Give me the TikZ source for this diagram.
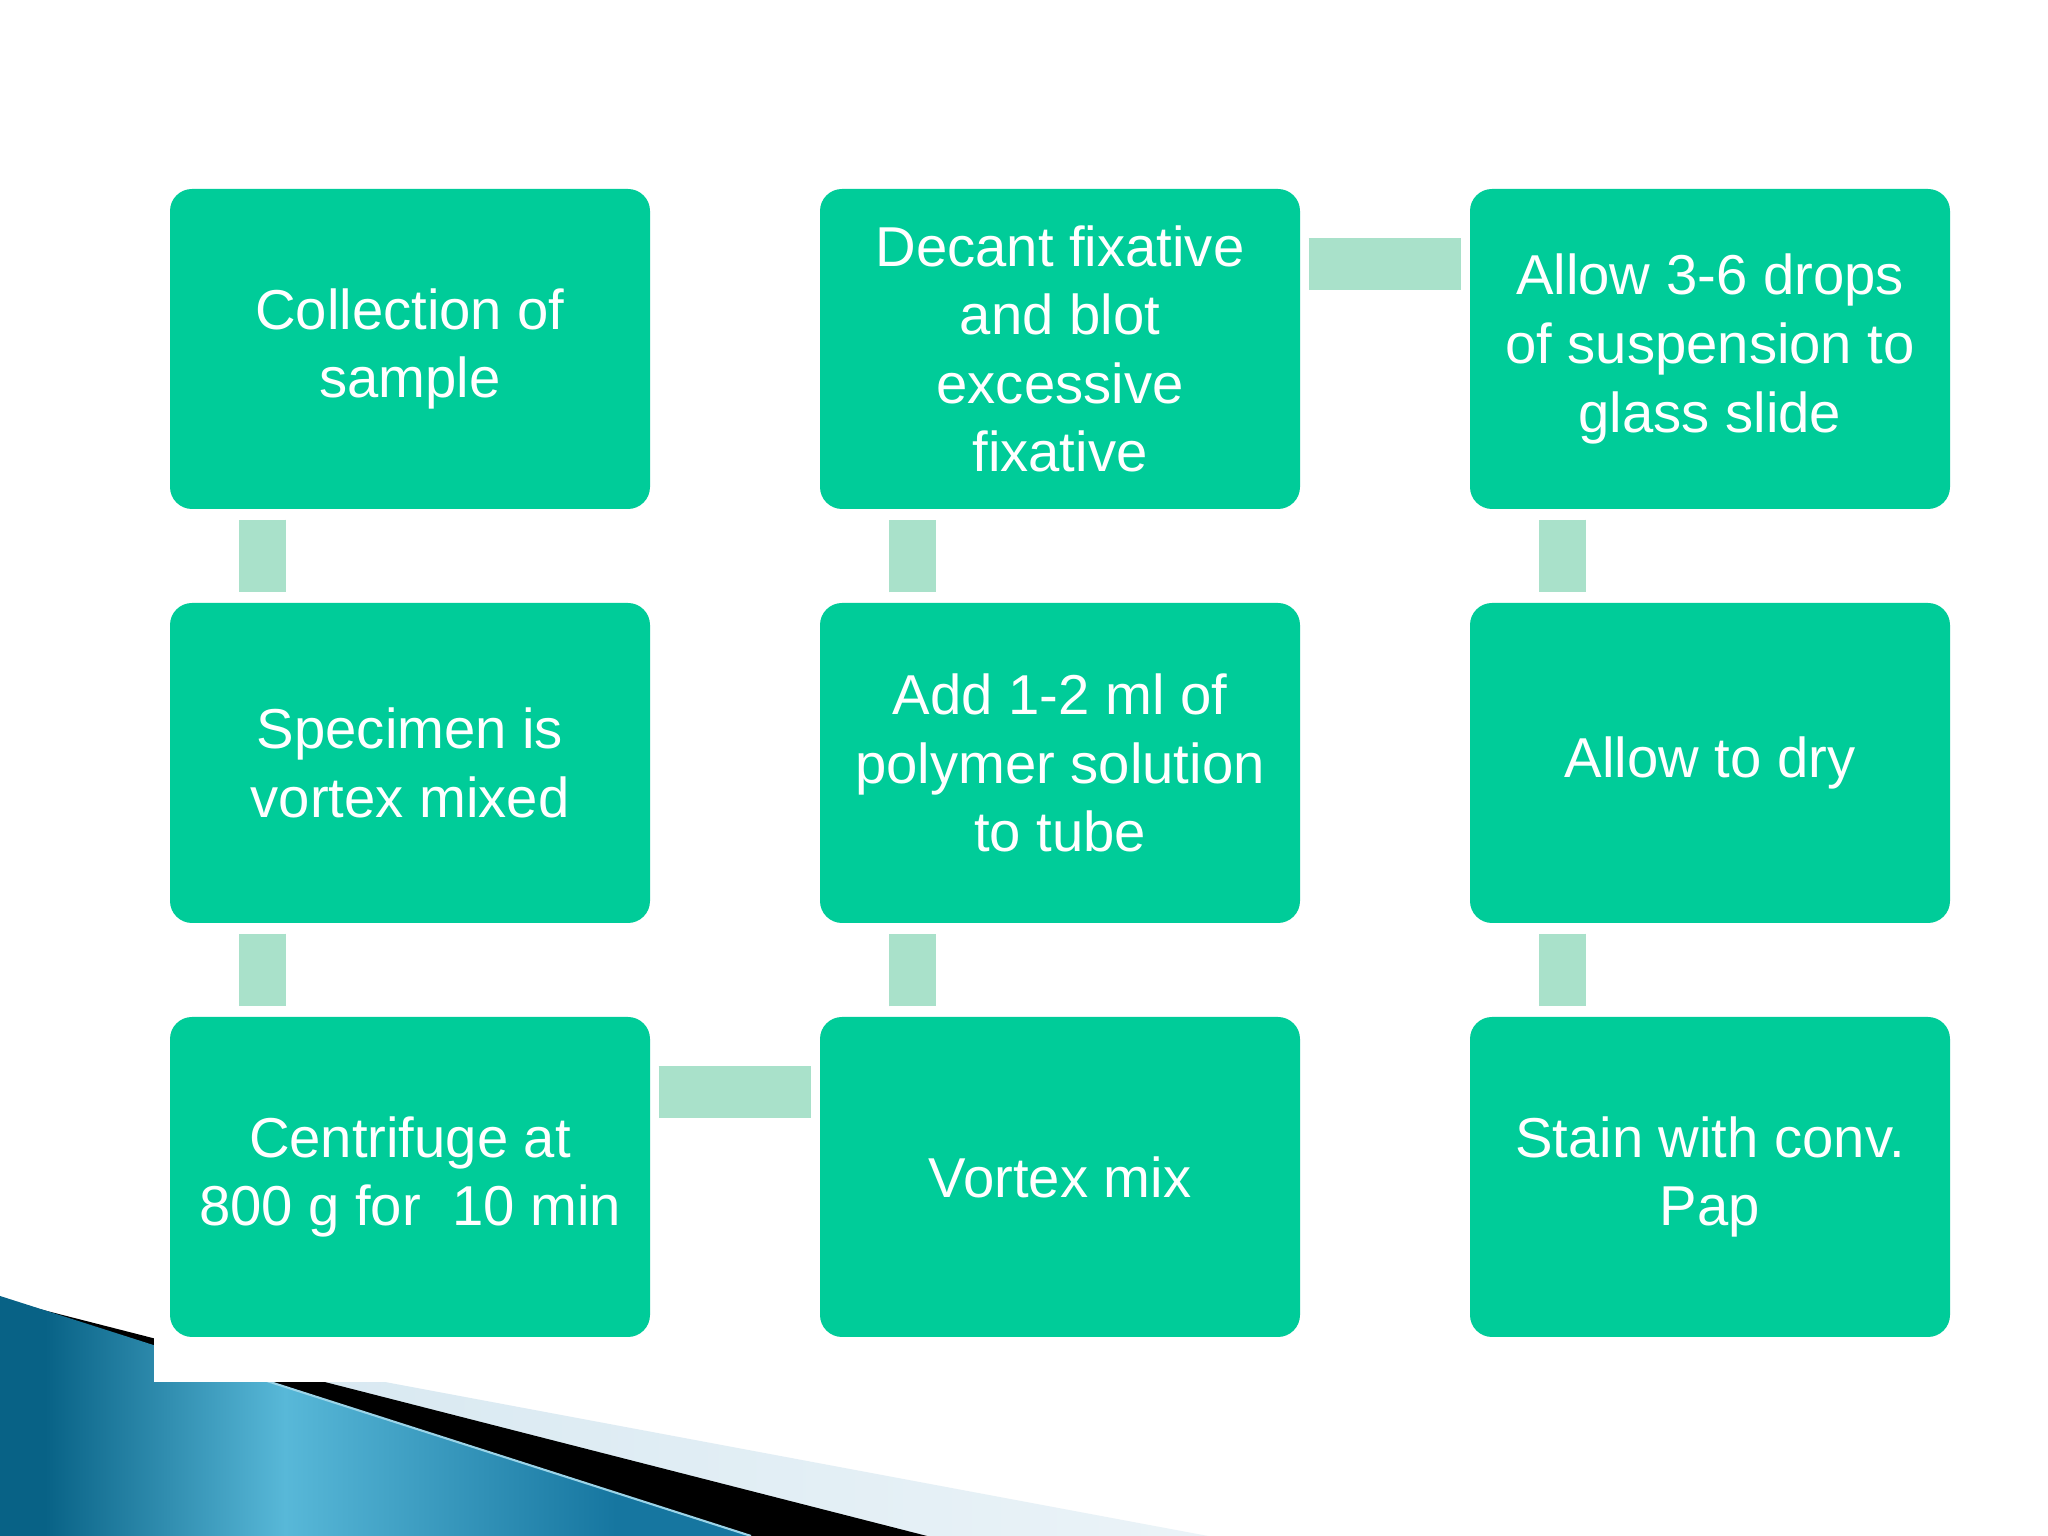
\documentclass[tikz,border=0pt]{standalone}
\usepackage{fontspec}
\setmainfont{Liberation Sans}
\usepackage{tikz}
\usetikzlibrary{calc}

\definecolor{stepgreen}{RGB}{0,204,153}
\definecolor{linkgreen}{RGB}{169,225,202}
\definecolor{swoopdark}{RGB}{8,98,134}
\definecolor{swooplight}{RGB}{88,184,216}
\definecolor{swoopedge}{RGB}{22,118,160}
\definecolor{swooppale}{RGB}{210,229,239}
\pgfdeclarehorizontalshading{swoop}{100bp}{color(0bp)=(swoopdark); color(28bp)=(swoopdark);
    color(44bp)=(swooplight); color(66bp)=(swoopedge); color(100bp)=(swoopedge)}

\begin{document}
\begin{tikzpicture}[
    stepbox/.style={rectangle,rounded corners=0.22cm,fill=stepgreen,text=white,
        minimum width=4.8cm,minimum height=3.2cm,inner sep=0pt,align=center,
        font=\fontsize{16}{19.5}\selectfont},
    vlink/.style={draw=linkgreen,line width=0.47cm},
    hlink/.style={draw=linkgreen,line width=0.52cm}]
    \useasboundingbox (0,0) rectangle (20.48,15.36);
    \fill [white] (0,0) rectangle (20.48,15.36);
    \shade [left color=swooppale,right color=swooppale!45!white] (0,0) -- (0,2.26) -- (12.08,0) -- cycle;
    \fill [black] (0,0) -- (0,2.37) -- (9.27,0) -- cycle;
    \shade [shading=swoop] (0,0) -- (0,2.40) -- (7.51,0) -- cycle;
    \draw [swooplight!60!white,line width=0.6pt] (2.2,1.7) -- (7.51,0);
    \fill [white] (1.54,1.54) rectangle (20.48,15.36);

    \node [stepbox] (collect) at (4.10,11.87) {Collection of\\sample};
    \node [stepbox] (vortexed) at (4.10,7.73) {Specimen is\\vortex mixed};
    \node [stepbox] (spin) at (4.10,3.59) {Centrifuge at\\800 g for\ \ 10 min};
    \node [stepbox] (vortex) at (10.60,3.59) {Vortex mix};
    \node [stepbox] (polymer) at (10.60,7.73) {Add 1-2 ml of\\polymer solution\\to tube};
    \node [stepbox] (decant) at (10.60,11.87) {Decant fixative\\and blot\\excessive\\fixative};
    \node [stepbox] (drops) at (17.10,11.87) {Allow 3-6 drops\\of suspension to\\glass slide};
    \node [stepbox] (dry) at (17.10,7.73) {Allow to dry};
    \node [stepbox] (stain) at (17.10,3.59) {Stain with conv.\\Pap};

    \draw [vlink] ([shift={(0.93,-0.1)}]collect.south west) -- ([shift={(0.93,0.1)}]vortexed.north west);
    \draw [vlink] ([shift={(0.93,-0.1)}]vortexed.south west) -- ([shift={(0.93,0.1)}]spin.north west);
    \draw [hlink] ([shift={(0.08,-0.76)}]spin.north east) -- ([shift={(-0.08,-0.76)}]vortex.north west);
    \draw [vlink] ([shift={(0.93,0.1)}]vortex.north west) -- ([shift={(0.93,-0.1)}]polymer.south west);
    \draw [vlink] ([shift={(0.93,0.1)}]polymer.north west) -- ([shift={(0.93,-0.1)}]decant.south west);
    \draw [hlink] ([shift={(0.08,-0.76)}]decant.north east) -- ([shift={(-0.08,-0.76)}]drops.north west);
    \draw [vlink] ([shift={(0.93,-0.1)}]drops.south west) -- ([shift={(0.93,0.1)}]dry.north west);
    \draw [vlink] ([shift={(0.93,-0.1)}]dry.south west) -- ([shift={(0.93,0.1)}]stain.north west);
\end{tikzpicture}
\end{document}
